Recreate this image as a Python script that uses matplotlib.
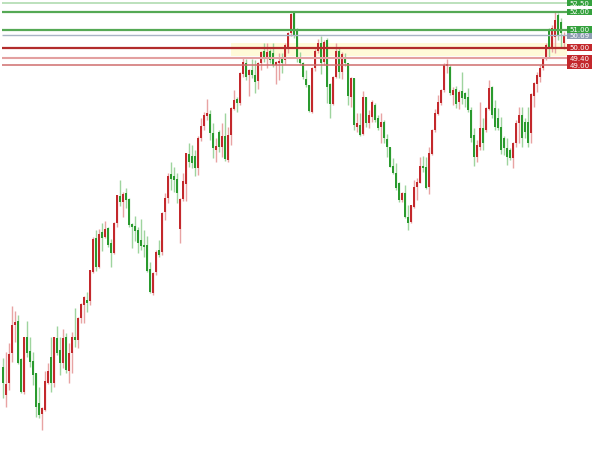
import matplotlib
matplotlib.use("Agg")
import matplotlib.pyplot as plt
from matplotlib.patches import Rectangle
import numpy as np

# daily OHLC
opens = [32.10, 30.53, 31.20, 32.88, 34.45, 34.67, 32.55, 30.70, 33.78, 32.99,
         32.43, 31.76, 30.07, 29.46, 29.68, 31.20, 32.66, 31.20, 33.72, 33.05,
         32.32, 33.78, 31.87, 32.88, 33.78, 33.61, 34.84, 35.57, 35.85, 35.80,
         37.42, 39.33, 37.70, 39.66, 39.38, 39.89, 39.05, 38.49, 40.17, 41.68,
         41.35, 41.85, 41.52, 40.11, 40.00, 39.78, 39.22, 38.94, 38.94, 37.59,
         36.24, 37.42, 38.66, 38.54, 40.79, 41.57, 42.92, 42.81, 42.64, 39.83,
         41.52, 42.36, 44.04, 43.92, 43.92, 43.25, 44.93, 45.61, 46.17, 46.28,
         45.22, 44.26, 45.27, 44.43, 45.05, 43.70, 45.10, 46.56, 47.12, 46.90,
         48.52, 49.14, 48.47, 48.75, 48.47, 48.13, 49.14, 49.81, 49.48, 49.81,
         49.70, 49.03, 49.14, 49.37, 49.31, 50.04, 50.82, 51.94, 50.99, 49.37,
         49.14, 48.24, 47.91, 46.39, 48.86, 49.81, 50.26, 49.20, 50.43, 47.96,
         46.84, 48.36, 49.81, 48.64, 49.48, 49.14, 47.24, 48.30, 45.55, 45.66,
         45.16, 47.24, 45.78, 46.11, 46.79, 46.06, 45.55, 45.83, 44.88, 44.43,
         43.36, 42.97, 42.41, 41.46, 41.85, 40.51, 40.22, 41.07, 42.19, 42.41,
         43.36, 43.31, 42.19, 44.04, 45.38, 46.28, 46.90, 47.63, 48.97, 48.92,
         47.35, 47.68, 46.95, 47.57, 47.46, 47.24, 46.51, 45.10, 43.87, 44.43,
         45.50, 45.38, 46.56, 47.80, 46.62, 46.06, 45.55, 44.93, 44.37, 44.26,
         43.81, 44.65, 45.78, 46.22, 45.83, 45.83, 45.22, 47.29, 47.96, 48.36,
         48.86, 49.42, 50.99, 50.04, 50.60, 51.83, 51.44, 50.26]
highs = [32.60, 32.94, 33.44, 35.51, 35.23, 35.01, 32.60, 33.80, 34.67, 33.78,
         32.94, 31.76, 30.98, 29.85, 31.87, 32.32, 33.78, 33.80, 34.39, 33.78,
         34.22, 34.00, 33.44, 34.06, 35.40, 34.90, 35.68, 36.08, 36.30, 37.55,
         39.38, 39.78, 39.83, 40.17, 40.28, 39.95, 39.27, 40.20, 41.76, 42.58,
         41.91, 42.13, 41.55, 40.17, 40.56, 39.94, 40.39, 39.78, 39.44, 37.98,
         37.42, 38.66, 39.22, 40.79, 41.85, 42.97, 43.59, 43.31, 42.97, 41.57,
         42.97, 44.12, 44.65, 44.54, 44.26, 45.05, 46.06, 46.39, 47.12, 46.51,
         45.78, 44.93, 45.38, 45.78, 46.34, 45.55, 46.67, 47.63, 47.24, 48.62,
         49.42, 49.37, 48.80, 49.37, 49.31, 49.20, 49.81, 50.26, 50.26, 49.92,
         50.26, 49.25, 49.70, 49.70, 50.26, 50.88, 51.94, 52.00, 51.10, 49.76,
         49.20, 48.75, 47.93, 48.92, 49.92, 50.49, 50.66, 50.43, 50.54, 48.02,
         48.41, 50.26, 49.98, 49.76, 49.70, 49.14, 48.36, 48.30, 46.34, 46.34,
         47.57, 47.26, 46.51, 47.07, 46.90, 46.22, 46.34, 45.94, 45.16, 44.45,
         43.81, 43.53, 42.47, 41.91, 42.30, 41.18, 41.20, 42.58, 42.69, 43.87,
         43.92, 43.87, 44.43, 45.44, 46.56, 47.35, 47.66, 49.14, 49.37, 49.03,
         47.80, 47.85, 47.63, 48.64, 47.51, 47.74, 46.67, 45.50, 44.82, 46.95,
         46.06, 46.67, 48.19, 47.85, 47.07, 46.62, 46.11, 45.05, 44.93, 44.37,
         44.70, 45.94, 46.67, 46.67, 46.06, 46.67, 47.46, 48.08, 48.64, 49.03,
         49.48, 50.26, 51.10, 51.27, 52.00, 51.94, 51.66, 50.88]
lows = [30.36, 29.85, 30.81, 32.38, 33.50, 32.25, 30.64, 30.59, 32.66, 32.10,
        31.09, 29.29, 29.23, 28.56, 29.62, 31.15, 30.70, 30.98, 32.77, 31.65,
        32.04, 31.76, 31.20, 31.76, 33.22, 33.16, 34.56, 34.56, 35.18, 35.57,
        37.36, 37.48, 37.65, 38.60, 39.33, 38.83, 37.70, 38.43, 39.94, 41.12,
        40.51, 41.01, 39.94, 38.77, 39.16, 38.49, 38.66, 38.26, 37.42, 36.24,
        36.13, 37.25, 38.26, 38.38, 40.34, 41.29, 42.02, 41.91, 41.29, 39.05,
        41.40, 41.40, 43.31, 43.25, 42.81, 42.86, 44.77, 45.38, 45.94, 44.82,
        43.81, 43.59, 44.15, 43.87, 43.65, 43.59, 44.54, 46.51, 46.39, 46.79,
        48.36, 48.19, 47.29, 48.30, 47.46, 47.68, 48.75, 49.20, 48.86, 49.14,
        48.92, 47.96, 48.19, 48.58, 49.09, 49.70, 50.66, 50.54, 49.20, 49.03,
        48.24, 47.80, 46.39, 46.34, 48.69, 49.70, 48.52, 49.03, 46.90, 46.06,
        46.79, 48.30, 48.30, 48.24, 48.97, 46.79, 46.67, 45.38, 45.27, 45.05,
        45.10, 45.55, 45.50, 45.83, 45.83, 45.38, 44.65, 44.65, 43.87, 43.28,
        42.92, 42.02, 41.35, 41.35, 40.45, 39.78, 40.17, 41.01, 41.46, 42.41,
        43.03, 42.10, 41.80, 43.98, 45.27, 46.22, 46.79, 47.51, 48.58, 47.35,
        46.79, 46.62, 46.56, 46.84, 46.67, 46.39, 44.71, 43.36, 43.59, 44.26,
        44.26, 45.27, 46.51, 46.06, 45.38, 45.38, 44.04, 43.98, 43.42, 43.70,
        43.25, 44.43, 44.65, 44.43, 44.93, 44.43, 44.65, 46.67, 47.51, 48.08,
        48.75, 49.31, 49.48, 49.76, 49.70, 50.43, 50.04, 49.92]
closes = [31.20, 31.15, 32.83, 34.45, 34.62, 32.32, 30.70, 33.78, 32.88, 32.38,
          31.65, 29.85, 29.40, 29.80, 31.31, 31.87, 31.20, 33.78, 32.88, 32.32,
          33.72, 31.93, 32.88, 33.78, 33.61, 34.84, 35.63, 36.02, 35.68, 37.53,
          39.27, 37.70, 39.55, 39.33, 39.83, 38.94, 38.49, 40.17, 41.74, 41.35,
          41.80, 41.46, 40.06, 39.94, 39.72, 39.05, 38.88, 38.83, 37.48, 36.30,
          37.36, 38.54, 38.38, 40.73, 41.57, 42.81, 42.64, 42.58, 41.85, 41.52,
          42.52, 44.09, 43.59, 43.53, 43.25, 44.93, 45.61, 46.22, 46.34, 45.22,
          44.37, 44.49, 44.43, 45.05, 43.76, 45.10, 46.62, 47.07, 46.90, 48.58,
          49.20, 48.36, 48.75, 48.47, 48.08, 49.14, 49.76, 49.48, 49.76, 49.31,
          49.03, 49.20, 49.25, 49.14, 50.15, 50.82, 51.89, 50.71, 49.42, 49.14,
          48.36, 47.91, 46.45, 48.86, 49.81, 50.26, 49.14, 50.32, 47.80, 46.84,
          48.36, 49.81, 48.64, 49.65, 49.14, 47.29, 48.30, 45.66, 45.78, 45.10,
          47.24, 45.78, 46.22, 46.95, 45.94, 45.50, 45.83, 44.93, 44.43, 43.31,
          42.97, 42.13, 41.46, 41.85, 40.51, 40.17, 41.18, 42.19, 42.47, 43.36,
          43.25, 42.13, 44.09, 45.38, 46.34, 46.95, 47.63, 49.03, 49.09, 47.46,
          47.63, 46.84, 47.51, 47.18, 47.12, 46.51, 44.93, 43.87, 44.54, 45.50,
          44.65, 46.62, 47.74, 46.22, 45.55, 45.50, 44.26, 44.37, 43.87, 43.81,
          44.65, 45.78, 46.22, 44.93, 45.27, 44.65, 47.40, 48.02, 48.47, 48.86,
          49.42, 50.15, 50.04, 51.10, 51.55, 50.71, 50.82, 50.71]

# horizontal levels and their tags
levels = [52.50, 52.00, 51.00, 50.69, 50.00, 49.40, 49.00]
line_colors = ['#a9d9a9', '#55a955', '#55a955', '#a8b4c4', '#b22c2c', '#e3a0a0', '#d06d6d']
line_widths = [1.1, 1.6, 1.6, 1.0, 1.6, 1.5, 1.1]
tag_colors = ['#34a13d', '#34a13d', '#34a13d', '#8d9db2', '#c3282c', '#c3282c', '#c3282c']

# yellow zone
zone_start = 76
zone_low, zone_high = 49.53, 50.24

red, green = '#c3282c', '#2a9a2e'
red_wick, green_wick = '#e8a3a3', '#9ed49e'

fig = plt.figure(figsize=(6, 4.5), dpi=100)
ax = fig.add_axes([0, 0, 1, 1])
ax.set_xlim(-0.9, 199.1)
ax.set_ylim(27.435, 52.673)
ax.axis('off')

n = len(opens)
x = np.arange(n)
o = np.array(opens)
h = np.array(highs)
l = np.array(lows)
c = np.array(closes)
up = c >= o

ax.fill_between([zone_start, n], zone_low, zone_high, color='#fffad8', lw=0, zorder=0)

# wicks
ax.vlines(x[up], l[up], h[up], color=red_wick, lw=1.0, zorder=2)
ax.vlines(x[~up], l[~up], h[~up], color=green_wick, lw=1.0, zorder=2)

# bodies
body = np.maximum(np.abs(c - o), 0.07)
bottom = np.minimum(o, c)
ax.bar(x[up], body[up], bottom=bottom[up], width=0.72, color=red, lw=0, zorder=3)
ax.bar(x[~up], body[~up], bottom=bottom[~up], width=0.72, color=green, lw=0, zorder=3)

for i, lev in enumerate(levels):
    ax.hlines(lev, -0.25, n, color=line_colors[i], lw=line_widths[i], zorder=4)

# tags: 50.69 sits under 51.00
tag_x0, tag_w, tag_h = n + 0.25, 8.3, 0.38
order = [3, 0, 1, 2, 4, 5, 6]
for k, i in enumerate(order):
    z = 5 + 2 * k
    box = Rectangle((tag_x0, levels[i] - tag_h / 2), tag_w, tag_h,
                    fc=tag_colors[i], ec='none', zorder=z)
    ax.add_patch(box)
    t = ax.text(tag_x0 + tag_w / 2, levels[i], f'{levels[i]:.2f}', color='white',
                fontsize=5, va='center_baseline', ha='center', zorder=z + 1)
    t.set_clip_path(box)

fig.savefig('out.png', dpi=100)
